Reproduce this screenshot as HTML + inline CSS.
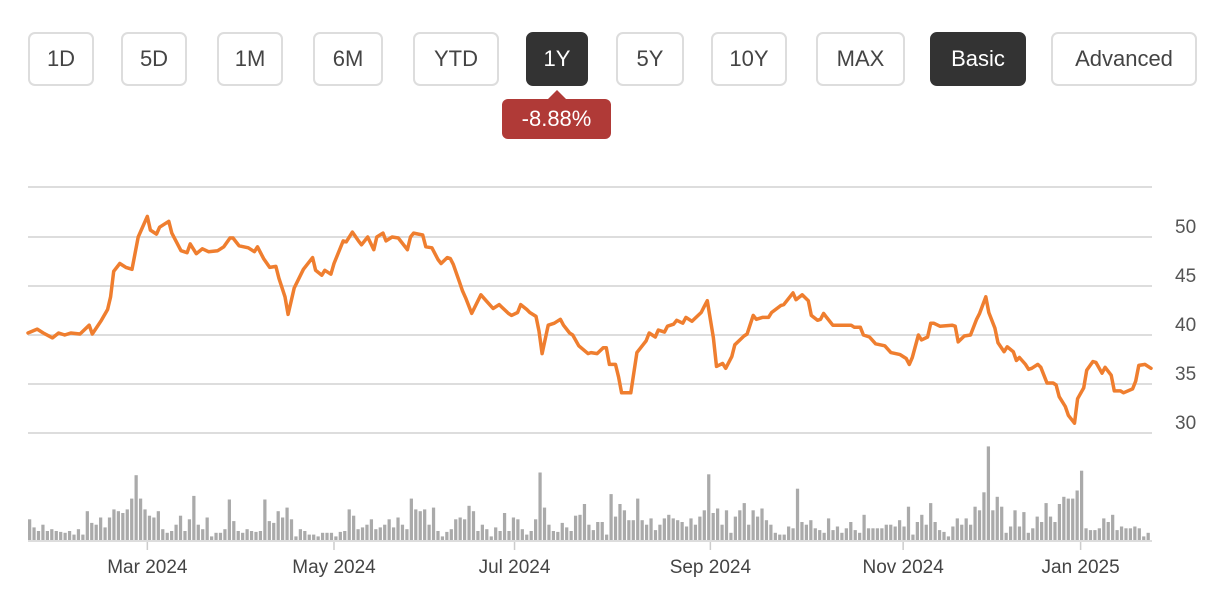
<!DOCTYPE html>
<html><head><meta charset="utf-8">
<style>
body{margin:0;width:1222px;height:608px;background:#fff;font-family:"Liberation Sans",Arial,sans-serif;overflow:hidden;position:relative}
.btn{position:absolute;top:32px;height:50px;border:2px solid #ddd;border-radius:7px;box-sizing:content-box;font-size:22px;color:#444;display:flex;align-items:center;justify-content:center;background:#fff}
.btn.active{background:#333;border-color:#333;color:#fff}
#tip{position:absolute;left:502px;top:99px;width:109px;height:40px;background:#b03a37;border-radius:6px;color:#fff;font-size:22px;display:flex;align-items:center;justify-content:center}
#tip:before{content:"";position:absolute;left:46px;top:-9px;border-left:9px solid transparent;border-right:9px solid transparent;border-bottom:9px solid #b03a37}
svg{position:absolute;left:0;top:0}
</style></head><body>
<div class="btn" style="left:28px;width:62px">1D</div>
<div class="btn" style="left:121px;width:62px">5D</div>
<div class="btn" style="left:217px;width:62px">1M</div>
<div class="btn" style="left:313px;width:66px">6M</div>
<div class="btn" style="left:413px;width:82px">YTD</div>
<div class="btn active" style="left:526px;width:58px">1Y</div>
<div class="btn" style="left:616px;width:64px">5Y</div>
<div class="btn" style="left:711px;width:72px">10Y</div>
<div class="btn" style="left:816px;width:85px">MAX</div>
<div class="btn active" style="left:930px;width:92px">Basic</div>
<div class="btn" style="left:1051px;width:142px">Advanced</div>
<div id="tip">-8.88%</div>
<svg id="chart" width="1222" height="608"></svg>
<script>
const priceDays=[0,3,5,8,10,12,14,17,20,21,24,26,27,28,30,32,34,36,39,40,42,43,46,47,50,52,53,55,57,59,62,64,66,67,69,72,74,75,77,79,81,82,84,85,87,90,93,94,96,97,99,100,103,104,106,108,109,111,113,114,116,117,119,121,124,125,126,129,130,132,134,135,137,138,139,141,142,143,145,148,150,152,154,155,157,158,160,161,163,164,166,167,168,170,172,174,175,177,178,180,183,184,186,188,189,190,192,193,194,197,199,201,202,203,205,206,208,209,211,212,214,215,217,218,220,221,222,224,225,227,228,230,231,233,234,235,237,238,240,242,243,246,247,250,251,253,255,256,258,259,260,261,263,265,269,270,272,273,275,277,280,282,285,287,288,289,291,292,294,295,296,298,302,303,304,306,308,310,311,313,314,316,317,319,320,322,323,324,326,327,328,330,331,333,335,336,337,339,340,342,343,345,346,348,349,351,352,354,355,357,358,361,362,363,365,367];
const prices=[40.2,40.6,40.2,39.7,40.2,40.0,40.2,40.1,41.0,40.1,41.5,42.6,43.9,46.5,47.3,46.9,46.7,50.0,52.1,50.7,50.3,51.0,51.6,50.4,48.6,48.4,49.3,48.3,48.8,48.5,48.6,49.0,49.9,49.9,49.1,48.9,48.5,49.0,47.8,46.9,47.0,45.8,43.9,42.1,44.8,46.7,47.9,46.6,46.1,46.6,46.2,47.3,49.6,49.5,50.5,49.6,49.2,50.0,48.7,50.0,50.4,49.6,50.0,49.9,48.7,50.0,50.4,50.2,49.0,48.9,47.7,47.3,47.9,47.8,47.2,45.4,44.5,43.8,42.2,44.1,43.4,42.7,43.1,42.8,42.2,42.0,42.3,43.1,42.6,42.3,41.9,40.4,38.1,41.0,41.2,41.6,41.0,40.2,40.0,38.9,38.1,38.2,38.1,38.7,38.7,37.0,37.0,35.7,34.1,34.1,38.2,39.0,39.4,40.2,39.8,40.5,40.3,40.9,41.1,41.5,41.2,41.8,41.4,41.7,42.3,42.9,43.5,39.7,36.8,37.1,36.6,37.8,39.0,39.6,39.9,40.1,42.0,41.6,41.8,41.8,42.3,43.0,43.1,44.3,43.6,44.1,43.5,42.0,41.5,41.6,42.2,41.8,41.0,41.0,41.0,40.8,40.8,40.0,39.8,39.1,38.9,38.2,38.0,37.6,37.0,37.7,40.0,39.5,39.8,41.2,41.2,40.9,41.0,40.9,39.3,39.9,40.0,41.6,42.2,43.9,42.3,40.7,39.2,38.3,38.8,38.3,37.4,37.7,37.0,36.5,36.6,37.0,36.7,35.1,35.1,34.9,33.7,32.7,31.8,31.0,33.5,34.6,36.4,37.3,37.2,36.1,36.7,35.9,34.3,34.3,34.1,34.5,35.3,36.9,37.0,36.6];
const volumes=[23,14,10,17,10,12,10,9,8,10,6,12,6,32,19,17,25,14,25,34,32,30,34,46,72,46,34,27,25,32,12,8,10,17,27,10,23,49,17,12,25,4,8,8,12,45,21,10,8,12,10,9,10,45,21,19,32,25,36,23,4,12,10,6,6,4,8,8,8,4,9,10,34,27,12,14,17,23,12,14,17,23,14,25,17,12,46,34,32,34,17,36,10,4,9,12,23,25,23,38,32,10,17,12,4,14,10,30,10,25,23,12,6,10,23,75,36,17,10,9,19,14,10,27,
28,40,17,11,20,20,6,51,26,40,33,22,22,46,22,17,24,11,17,24,28,24,22,20,15,24,17,26,33,73,30,35,17,33,8,26,33,41,17,33,26,35,22,17,8,6,6,15,13,57,20,17,22,13,11,8,24,11,15,8,13,20,11,8,28,13,13,13,13,17,17,15,22,15,37,6,20,28,17,41,20,11,9,4,15,24,17,24,17,37,33,53,104,33,48,37,8,15,33,15,31,8,13,26,20,41,26,20,40,48,46,46,55,77,13,11,11,13,24,20,28,11,15,13,13,15,13,4,8];
const yTicks=[50,45,40,35,30];
const xTickDays=[39,100,159,223,286,344];
const xTickLabels=["Mar 2024","May 2024","Jul 2024","Sep 2024","Nov 2024","Jan 2025"];
const totalDays=367;

const NS="http://www.w3.org/2000/svg";
const svg=document.getElementById('chart');
const L=28,R=1151;
const xDay=d=>L+d*(R-L)/totalDays;
const yP=p=>237+(50-p)*9.8;
const base=540;
const yV=v=>base-v*0.9;
function mk(tag,attrs){const e=document.createElementNS(NS,tag);for(const k in attrs)e.setAttribute(k,attrs[k]);svg.appendChild(e);return e;}

let g=mk('line',{x1:L,x2:1152,y1:187,y2:187,stroke:'#ddd','stroke-width':2});


yTicks.forEach(t=>{
  const l=mk('line',{x1:L,x2:1152,y1:yP(t),y2:yP(t),stroke:'#ddd','stroke-width':2});
  
  
  const tx=mk('text',{x:1175,y:yP(t)-4,'font-size':19,fill:'#555','font-family':'Liberation Sans, sans-serif'});
  tx.textContent=t;
  
  
});
const bw=(R-L)/volumes.length;
volumes.forEach((v,i)=>{
  const r=mk('rect',{x:L+i*bw,y:yV(v),width:Math.max(bw-1.2,1.5),height:base-yV(v),fill:'#aaa'});
  
  
});
let bl=mk('line',{x1:L,x2:1152,y1:base+1,y2:base+1,stroke:'#ddd','stroke-width':2});


xTickDays.forEach((d,i)=>{
  const t=mk('line',{x1:xDay(d),x2:xDay(d),y1:base+2,y2:base+10,stroke:'#ccc','stroke-width':1.5});
  
  
  const tx=mk('text',{x:xDay(d),y:573,'font-size':19,fill:'#444','text-anchor':'middle','font-family':'Liberation Sans, sans-serif'});
  tx.textContent=xTickLabels[i];
  
  
});
const pts=prices.map((p,i)=>xDay(priceDays[i]).toFixed(1)+','+yP(p).toFixed(1)).join(' ');
const pl=mk('polyline',{points:pts,fill:'none',stroke:'#ef7e2f','stroke-width':3.5,'stroke-linejoin':'round','stroke-linecap':'round'});


</script>
</body></html>
